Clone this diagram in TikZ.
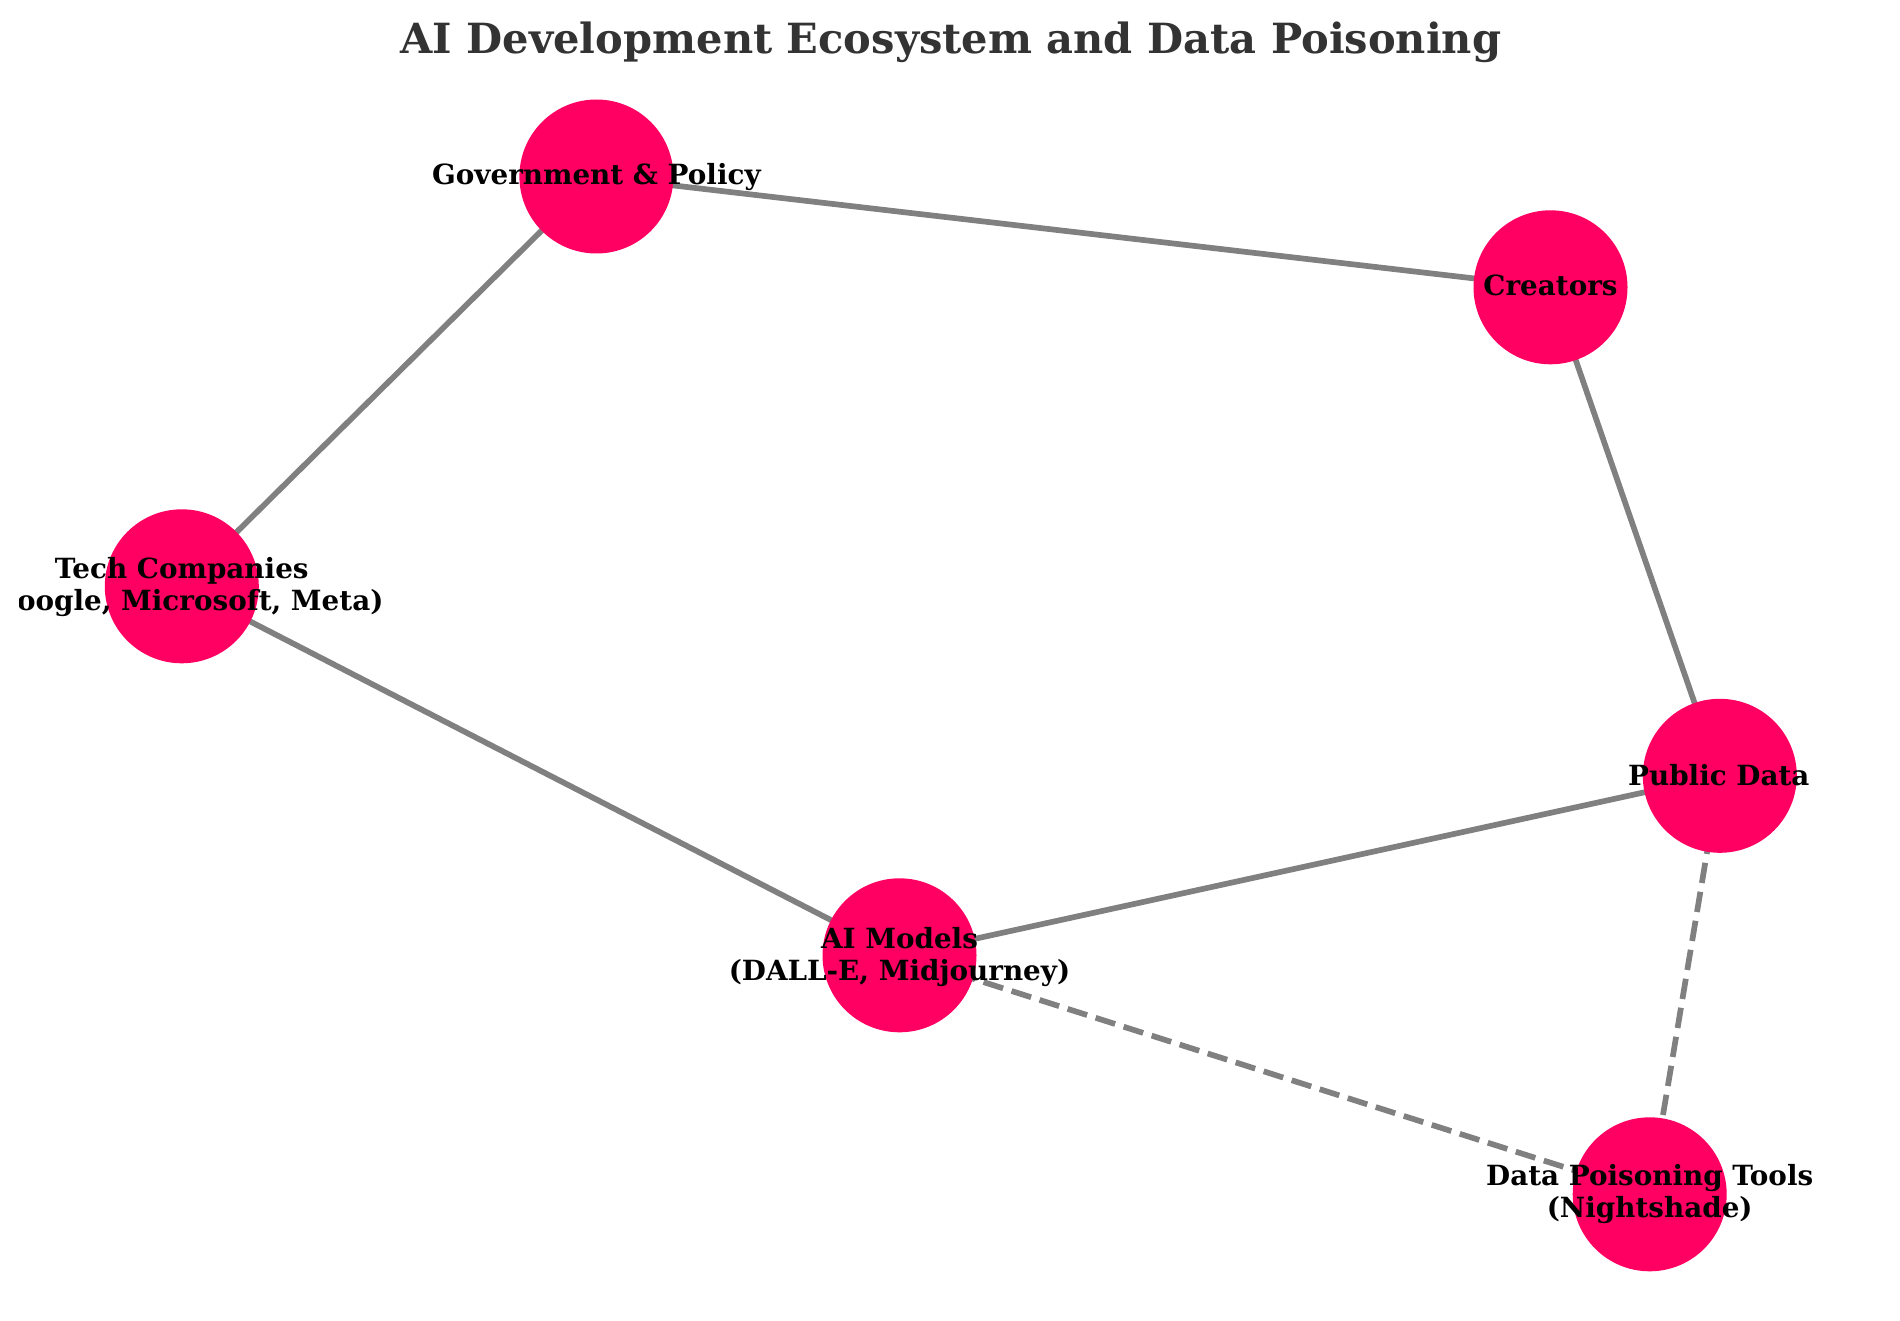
\documentclass[tikz,border=0pt]{standalone}
\usepackage{fontspec}
\setmainfont{DejaVu Serif}
\usetikzlibrary{backgrounds}
\definecolor{nodepink}{HTML}{FF0062}
\definecolor{edgegray}{HTML}{808080}
\definecolor{titlegray}{HTML}{333333}
\tikzset{
  x=1pt,y=-1pt,
  hub/.style={circle,fill=nodepink,draw=none,inner sep=0pt,outer sep=0pt,minimum size=154pt},
  hublabel/.style={inner sep=0pt,outer sep=0pt,align=center,text=black,font=\fontsize{27.8}{32}\selectfont\bfseries},
  link/.style={draw=edgegray,line width=5.7pt},
  dashlink/.style={link,dash pattern=on 20.5pt off 8.9pt},
  titletext/.style={inner sep=0pt,text=titlegray,font=\fontsize{41.58}{48}\selectfont\bfseries}
}
\begin{document}
\begin{tikzpicture}
\useasboundingbox (0,0) rectangle (1900,1321);
\node[titletext] (title) at (951,42) {AI Development Ecosystem and Data Poisoning};
\node[hub] (gov) at (596.4,176.5) {};
\node[hub] (cre) at (1550.5,287.3) {};
\node[hub] (tech) at (181.8,586.3) {};
\node[hub] (pub) at (1719.8,775.8) {};
\node[hub] (ai) at (899.5,955.3) {};
\node[hub] (data) at (1649.7,1194.3) {};
\begin{pgfonlayer}{background}
\draw[link] (gov.center) -- (cre.center);
\draw[link] (gov.center) -- (tech.center);
\draw[link] (cre.center) -- (pub.center);
\draw[link] (tech.center) -- (ai.center);
\draw[link] (ai.center) -- (pub.center);
\draw[dashlink] (ai.center) -- (data.center);
\draw[dashlink] (pub.center) -- (data.center);
\end{pgfonlayer}
\node[hublabel] (govl) at ([yshift=-1pt]gov.center) {Government \& Policy};
\node[hublabel] (crel) at ([yshift=2pt]cre.center) {Creators};
\begin{scope}
\clip (19,480) rectangle (420,700);
\node[hublabel] (techl) at ([yshift=-0.5pt]tech.center) {Tech Companies\\(Google, Microsoft, Meta)};
\end{scope}
\node[hublabel] (publ) at ([xshift=-1pt,yshift=1pt]pub.center) {Public Data};
\node[hublabel] (ail) at ([yshift=-1.5pt]ai.center) {AI Models\\(DALL-E, Midjourney)};
\node[hublabel] (datal) at (data.center) {Data Poisoning Tools\\(Nightshade)};
\end{tikzpicture}
\end{document}
